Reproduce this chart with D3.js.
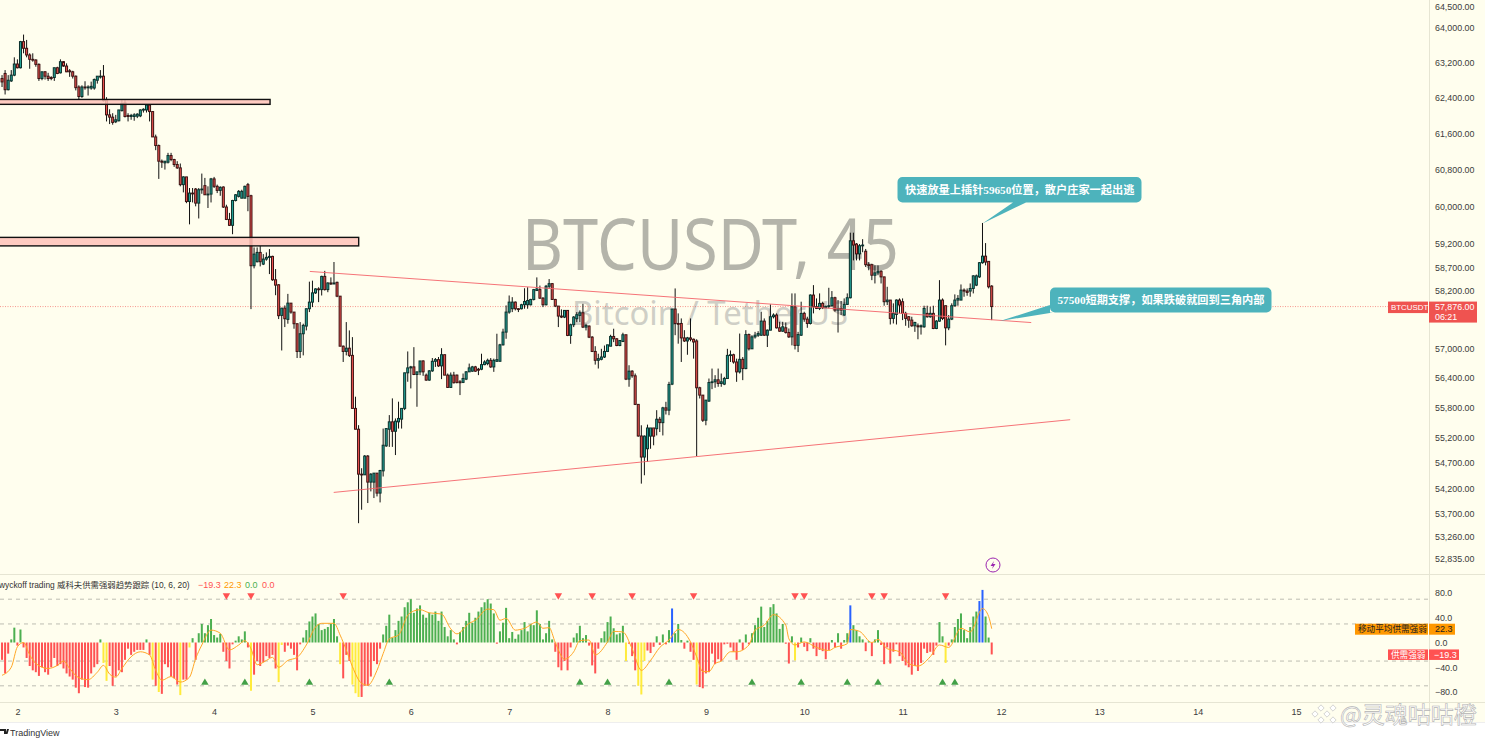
<!DOCTYPE html>
<html>
<head>
<meta charset="utf-8">
<style>
  html, body { margin: 0; padding: 0; background: #fff; overflow: hidden; }
  text { font-family: "Liberation Sans", "Noto Sans CJK SC", sans-serif; }
  .tick text { fill: #3c3c3c; }
</style>
<script src="https://cdn.jsdelivr.net/npm/d3@7"></script>
</head>
<body>
<svg id="canvas" width="1485" height="738"></svg>
<script>
// BTCUSDT 45 min candles
const opens = [
62843,62958,62590,62789,62920,63173,63088,63686,63533,63380,
63280,63265,63165,62843,62996,62896,62866,62866,63088,62973,
63226,63127,63019,62996,62896,62651,62436,62651,62636,62628,
62628,62804,62881,62896,62355,62024,61973,61870,61892,62120,
62296,62010,61988,61988,61995,62002,62134,62134,62245,62098,
61532,61341,60995,60959,60973,61120,61032,60922,60848,60481,
60650,60113,60297,60385,60079,60370,60459,60260,60275,60606,
60444,60355,60429,59994,59726,59599,60136,60225,60186,60186,
60481,60240,58736,58821,59019,58771,58877,58913,58934,58439,
58333,57692,57844,57609,57948,57761,57519,56946,57311,57470,
57831,57969,58163,58246,58232,58510,58232,58371,58350,58385,
58094,57054,56946,57013,56865,55787,55369,54478,54465,54835,
54322,54322,54498,54107,54543,55037,55369,55517,55328,55517,
55571,55787,56508,56609,56629,56474,56528,56751,56461,56360,
56548,56744,56778,56650,56879,56461,56211,56461,56461,56326,
56313,56380,56528,56542,56629,56582,56582,56676,56697,56764,
56629,56744,56744,57082,57345,57761,57831,57969,57831,57831,
57914,57914,57914,58025,58212,58232,58052,57914,58302,58357,
58025,57886,57678,57657,57796,57276,57498,57623,57692,57747,
57449,57470,57241,56946,56764,56785,56832,56946,57054,57255,
57207,57068,57151,57290,56380,56542,56447,55868,55234,54816,
54980,55231,55394,55380,55569,55501,55798,55751,56278,57824,
57524,57524,57225,57162,57225,57197,57162,56204,56055,55549,
55934,56311,56325,56366,56291,56278,56392,56865,56878,56730,
56527,56784,56595,57294,57000,57246,57281,57281,57573,57281,
57385,57664,57699,57434,57364,57434,57336,57246,57873,57071,
57281,57734,57615,57524,58117,57873,57838,57943,57852,57880,
57894,58061,57803,57838,57699,57922,58061,59267,59197,58988,
59162,59044,58758,58758,58535,58584,58619,58500,57978,58012,
57629,57713,58012,57978,57734,57664,57594,57476,57476,57455,
57455,57734,57664,57734,57420,57573,58012,57894,57434,57615,
57894,58012,58012,58221,58201,58201,58256,58326,58500,58800,
58939,58828,58305];
const highs = [
62920,63035,62920,63035,63326,63280,63702,63848,63725,63418,
63418,63280,63188,62996,63011,62973,62896,63088,63111,63280,
63241,63188,63057,63019,62912,62689,62689,62781,62689,62773,
62843,62896,63035,63150,62421,62149,62061,62024,62134,62355,
62355,62061,62046,62061,62061,62149,62171,62267,62259,62098,
61583,61363,61032,60995,61179,61179,61047,60995,60944,60664,
60650,60407,60407,60407,60407,60723,60628,60444,60628,60650,
60481,60444,60444,60044,59867,60150,60275,60363,60370,60459,
60518,60260,59125,59125,59160,58983,59019,59090,58948,58665,
58347,57844,57900,58142,57948,57761,57519,57553,57519,57831,
58399,58420,58260,58281,58524,58627,58385,58489,58815,58399,
58094,57068,57553,57380,57241,56023,55450,54595,54855,54855,
54498,54498,54498,54563,55382,55382,55652,55989,55585,55922,
55787,56508,56946,56650,57034,56528,56751,56764,56494,56562,
56811,56811,56832,57013,56879,56494,56515,56528,56474,56360,
56494,56542,56697,56650,56650,56609,56899,56764,56798,56811,
56798,57311,57103,57415,57900,58108,58073,57983,57844,57934,
58260,58281,58038,58246,58489,58316,58073,58330,58454,58371,
58038,57886,57817,57796,57796,57519,57678,57761,57796,57934,
57519,57484,57262,57054,56899,57000,57068,57082,57290,57415,
57221,57172,57332,57290,56663,56562,56494,55868,55448,55245,
55461,55394,55394,55751,55616,55819,55920,56325,57824,58256,
57734,57629,57385,57246,57629,57211,57197,56224,56055,55954,
56392,56595,56460,56595,56494,56426,57000,56966,56899,56798,
57315,56831,57385,57315,57281,57350,57364,57768,57629,57399,
57922,57734,57734,57559,57559,57545,57420,58152,58152,57350,
57978,57768,57664,58131,58326,58047,58152,57978,57894,58270,
58201,58082,58012,57992,58047,58152,59441,59441,59218,59197,
59302,59093,58814,58779,58744,58744,58640,58500,58291,58012,
57943,58026,58047,58047,57768,57678,57664,57559,57524,57503,
57894,57894,57873,57894,57594,58431,58047,57894,57699,57943,
58131,58117,58340,58256,58256,58361,58535,58549,58814,59650,
59218,58828,58326];
const lows = [
62651,62482,62574,62766,62896,63073,63073,63418,63326,63065,
63226,63111,62789,62804,62820,62789,62804,62789,62942,62958,
63111,62988,62881,62843,62574,62360,62406,62590,62459,62590,
62590,62728,62843,62321,61877,61818,61804,61840,61877,62098,
61965,61877,61914,61892,61951,61973,62076,62076,61877,61532,
61238,60606,60848,60811,60944,60995,60870,60826,60444,60312,
60077,59620,60093,60009,59747,60282,60260,59973,60093,60407,
60297,60238,59973,59712,59584,59408,60115,60201,60186,60186,
59903,57823,58680,58807,58722,58750,58842,58559,58418,58114,
57616,56966,57449,57519,57727,57415,56811,56811,56865,57380,
57761,57865,58142,57969,58108,58212,58177,58330,58350,58073,
57054,56730,56865,56832,55787,55369,53522,53783,54465,53913,
54140,54010,54042,53925,54432,55017,55017,55017,54855,55382,
55382,55753,56326,56191,56461,55820,56461,56447,56346,56346,
56528,56629,56629,56380,56461,56205,56205,56292,56292,56056,
56299,56360,56528,56528,56528,56461,56562,56663,56663,56609,
56528,56730,56744,57068,57207,57727,57761,57796,57761,57817,
57831,57831,57900,58004,58212,58038,57865,57900,58246,58025,
57865,57449,57636,57636,57262,57103,57449,57553,57553,57429,
57380,57221,56933,56676,56596,56764,56811,56933,57054,57138,
57054,57054,57138,56360,56225,56407,55854,55220,54292,54456,
54718,54980,55049,55245,55313,55245,55664,55650,56258,57281,
57106,56730,57141,56878,57155,56798,54836,55987,55515,55448,
55920,56176,56204,56224,56224,56258,56392,56730,56696,56325,
56494,56359,56581,56966,57000,57211,57246,57267,57267,57037,
57385,57629,57420,57350,57350,57315,57225,57071,56987,56933,
57267,57559,57434,57503,57734,57824,57803,57824,57852,57838,
57873,57768,57336,57699,57685,57908,58047,58849,58849,58849,
59023,58709,58640,58431,58361,58535,58361,57894,57908,57503,
57524,57503,57734,57594,57476,57434,57455,57350,57197,57294,
57434,57643,57643,57406,57406,57559,57594,57071,57385,57594,
57873,57894,58012,58082,58103,58082,58152,58305,58479,58779,
58744,58256,57594];
const closes = [
62766,62590,62804,62920,63173,63088,63686,63533,63380,63280,
63265,63165,62843,62996,62896,62843,62843,63088,62958,63226,
63127,62996,62996,62896,62636,62436,62651,62636,62651,62666,
62820,62896,62896,62344,62024,61973,61855,61914,62134,62281,
61988,61988,62010,62024,62039,62134,62149,62245,62098,61532,
61341,60995,60973,60995,61120,61032,60922,60848,60481,60650,
60113,60297,60282,60079,60370,60385,60260,60275,60606,60444,
60355,60422,59994,59726,59599,60136,60260,60334,60334,60444,
60225,58736,58983,59019,58821,58877,58913,58934,58439,58326,
57686,57844,57623,57948,57761,57519,56946,57311,57484,57831,
57969,58163,58246,58232,58510,58232,58371,58350,58371,58094,
57054,56946,57013,56865,55787,55369,54478,54465,54835,54322,
54478,54498,54107,54550,55050,55382,55517,55328,55531,55585,
55787,56508,56609,56629,56474,56528,56751,56528,56360,56548,
56744,56778,56650,56879,56461,56211,56461,56306,56313,56306,
56393,56528,56609,56629,56542,56562,56676,56730,56764,56629,
56764,56778,57082,57345,57761,57969,57969,57831,57817,57914,
57983,58004,58025,58232,58246,58052,57914,58302,58357,58025,
57886,57678,57657,57796,57276,57498,57657,57706,57747,57449,
57484,57241,56946,56764,56798,56832,56946,57082,57255,57207,
57068,57172,57290,56380,56542,56447,55868,55234,54816,55231,
55394,55394,55231,55569,55501,55798,55751,56271,57824,57524,
57510,57225,57162,57225,57197,57141,56204,56055,55549,55954,
56311,56325,56366,56291,56325,56392,56865,56878,56730,56527,
56784,56595,57294,57000,57246,57281,57315,57573,57281,57385,
57664,57699,57434,57364,57455,57336,57246,57873,57071,57294,
57734,57615,57524,58117,57873,57838,57943,57852,57880,57894,
58061,57803,57838,57803,57922,58061,59267,59176,58988,59162,
59176,58758,58744,58535,58584,58619,58500,57978,58012,57629,
57734,58012,57908,57734,57629,57594,57476,57545,57455,57476,
57838,57664,57734,57420,57573,58012,57629,57434,57615,57894,
58012,58047,58221,58201,58173,58256,58521,58521,58800,58939,
58814,58291,57876];

// supply/demand histogram, one value per candle
const histogram = [
-28,-50,-18,5,24,-5,21,-8,-25,-38,
-45,-48,-54,-40,-48,-52,-40,-25,-38,-35,
-42,-50,-55,-60,-73,-82,-60,-72,-73,-50,
-40,-35,5,-33,-62,-38,-70,-55,-45,-48,
-28,-10,-20,-15,-12,-12,-12,5,-20,-60,
-70,-80,-83,-35,-40,-55,-58,-68,-85,-60,
-60,-8,7,-28,15,30,15,28,38,12,
8,14,-15,-30,-42,-3,3,10,5,18,
-8,-78,-52,-30,-38,-32,-22,-25,-20,-42,
-64,-4,-15,-5,-10,-20,-45,-3,8,20,
34,42,47,30,20,22,25,30,38,10,
-35,-58,-20,-30,-68,-82,-88,-88,-70,-70,
-55,-30,-35,-10,13,27,45,8,20,35,
42,57,65,70,48,55,60,45,40,48,
45,50,35,50,25,10,20,5,-3,17,
25,35,48,32,40,50,57,65,70,63,
47,-2,18,32,56,7,17,6,13,20,
33,18,30,28,52,30,5,15,35,5,
-15,-40,-45,-30,-45,-8,8,15,27,7,
12,-5,-37,-50,-10,7,18,33,42,23,
13,15,27,-30,-2,-22,-45,-70,-84,-30,
-13,-17,-7,10,-4,13,-3,20,55,15,
30,4,-10,3,-15,-28,-68,-72,-74,-50,
-48,-18,-35,-27,-30,-3,-2,-8,-15,-28,
5,-12,13,-3,15,28,40,58,25,35,
57,62,47,22,30,-2,-34,10,-29,-8,
8,-7,-14,7,-10,-22,-12,-14,-27,-12,
4,-8,15,-10,4,15,60,28,20,10,
5,-14,2,-22,5,20,-4,-35,-8,-34,
-15,-3,-22,-30,-37,-40,-52,-38,-46,-33,
-10,-17,-15,-20,-5,33,10,-33,-5,5,
25,38,47,20,7,25,42,50,67,85,
42,8,-19.3];
const yellowBars = [33,34,49,51,58,61,81,90,91,110,114,115,116,203,207,208,209,226,258,307];
const blueBars = [218,276,318,319];

// orange moving average, read at its bends
const signalBars = [0,3,5,7,9,11,15,18,20,22,25,28,31,33,35,37,39,42,45,48,50,52,55,58,61,63,65,68,71,74,77,79,81,83,86,88,90,93,96,99,102,104,108,110,
112,114,117,119,122,124,126,129,132,134,136,139,143,146,148,152,154,158,160,162,164,167,170,174,176,178,180,183,186,188,191,193,197,199,202,205,208,211,214,217,220,
224,226,228,230,232,234,237,239,243,245,248,251,255,256,258,261,265,269,271,275,276,279,283,285,288,292,295,298,302,305,308,312,315,319,321,322];
const signalValues = [-53,-40,-7,0,-20,-34,-42,-37,-30,-42,-57,-60,-48,-37,-51,-56,-42,-23,-15,-20,-45,-61,-55,-64,-56,-26,-4,20,15,-12,-4,3,-10,-36,-29,-24,-40,-29,-24,-4,25,31,31,12,
-12,-39,-66,-69,-45,-18,6,12,44,51,53,48,46,22,14,31,36,54,53,36,39,20,23,33,23,24,0,-27,-15,3,4,-20,1,18,17,-10,-45,-29,-8,4,21,
1,-23,-47,-47,-34,-30,-15,-15,-4,20,28,45,28,6,-4,1,-8,-13,-8,-2,21,18,0,5,-10,-15,-34,-38,-23,-4,-8,23,17,55,42,22.3];

const sellMarks = [73,81,111,181,192,205,225,258,261,283,287,307];
const buyMarks = [66,79,100,126,188,197,217,244,260,275,285,306,310];

const priceTicks = [64500,64000,63200,62400,61600,60800,60000,59200,58700,58200,57000,56400,55800,55200,54700,54200,53700,53260,52835];
const indicatorTicks = [80,40,0,-40,-80];
const indicatorLevels = [70,30,-30,-70];
const dayTicks = [2,3,4,5,6,7,8,9,10,11,12,13,14,15];

const trendDays = [[4.973,12.308],[5.216,12.704]];
const trendPrices = [[58615,57543],[54120,55560]];
const zoneEnds = [4.569,5.47];
const zoneTops = [62370,59340];
const zoneBottoms = [62260,59158];

const lastPrice = 57876;
const lastSignal = 22.3;
const lastHist = -19.3;
const callouts = ['快速放量上插针59650位置，散户庄家一起出逃','57500短期支撑，如果跌破就回到三角内部'];

const red = '#ef5350';
const bg = '#fffeee';

const svg = d3.select('#canvas');
const x = d3.scaleLinear().domain([2,15]).range([17.4,1296]);
const y = d3.scaleLog().domain([64000,53700]).range([28,514]);
const yi = d3.scaleLinear().domain([80,-80]).range([593,692]);
const barDay = (i) => 2 + (i - 5) / 32;
const bx = (i) => x(barDay(i));

svg.append('rect').attr('width',1485).attr('height',722).attr('fill',bg);
svg.append('rect').attr('y',722).attr('width',1485).attr('height',16).attr('fill','#fff');
svg.append('line').attr('x1',0).attr('x2',1485).attr('y1',722.5).attr('y2',722.5).attr('stroke','#eeeeee');

const defs = svg.append('defs');
defs.append('clipPath').attr('id','pane').append('rect').attr('width',1429).attr('height',722);

const pane = svg.append('g').attr('clip-path','url(#pane)');

// big symbol watermark behind the candles
pane.append('text').attr('x',522).attr('y',270)
  .attr('textLength',377).attr('lengthAdjust','spacingAndGlyphs')
  .style('font-family','"Noto Sans"').style('font-size','72px').attr('fill','#b4b4aa')
  .text('BTCUSDT, 45');
pane.append('text').attr('x',572).attr('y',325)
  .attr('textLength',276).attr('lengthAdjust','spacingAndGlyphs')
  .style('font-family','"Noto Sans"').style('font-size','32px').attr('fill','#cfcfc6')
  .text('Bitcoin / TetherUS');

// last price dotted line
pane.append('line').attr('x1',0).attr('x2',1388).attr('y1',y(lastPrice)).attr('y2',y(lastPrice))
  .attr('stroke',red).attr('stroke-width',1).attr('stroke-opacity',0.6).attr('stroke-dasharray','1,1.5');

const idx = d3.range(opens.length);

// wicks
pane.append('g').selectAll('line').data(idx).enter().append('line')
  .attr('x1',bx).attr('x2',bx)
  .attr('y1',(i) => y(highs[i])).attr('y2',(i) => y(lows[i]))
  .attr('stroke','#111').attr('stroke-width',1);

// bodies
pane.append('g').selectAll('rect').data(idx).enter().append('rect')
  .attr('x',(i) => bx(i) - 1).attr('width',2)
  .attr('y',(i) => y(Math.max(opens[i],closes[i])))
  .attr('height',(i) => Math.max(0.8,Math.abs(y(opens[i]) - y(closes[i]))))
  .attr('fill',(i) => closes[i] >= opens[i] ? '#26a69a' : red)
  .attr('stroke',(i) => closes[i] >= opens[i] ? '#0a2f2a' : '#3a1212')
  .attr('stroke-width',1);

// supply zones
pane.append('g').selectAll('rect').data(zoneEnds).enter().append('rect')
  .attr('x',-4)
  .attr('width',(d) => x(d) + 4)
  .attr('y',(d,k) => y(zoneTops[k]))
  .attr('height',(d,k) => y(zoneBottoms[k]) - y(zoneTops[k]))
  .attr('fill','#ffc2b8').attr('fill-opacity',0.85)
  .attr('stroke','#111').attr('stroke-width',1.4);

// triangle lines
pane.append('g').selectAll('line').data(trendDays).enter().append('line')
  .attr('x1',(d) => x(d[0])).attr('x2',(d) => x(d[1]))
  .attr('y1',(d,k) => y(trendPrices[k][0])).attr('y2',(d,k) => y(trendPrices[k][1]))
  .attr('stroke','#f4646a').attr('stroke-width',1).attr('stroke-opacity',0.9);

// callouts
const callout = (x0,y0,x1,y1,tail,textX,label) => {
  const r = 5;
  const p = d3.path();
  p.moveTo(x0 + r,y0);
  p.lineTo(x1 - r,y0);
  p.arcTo(x1,y0,x1,y0 + r,r);
  p.lineTo(x1,y1 - r);
  p.arcTo(x1,y1,x1 - r,y1,r);
  tail(p);
  p.lineTo(x0 + r,y1);
  p.arcTo(x0,y1,x0,y1 - r,r);
  p.lineTo(x0,y0 + r);
  p.arcTo(x0,y0,x0 + r,y0,r);
  p.closePath();
  svg.append('path').attr('d',p.toString()).attr('fill','#4db3bc');
  svg.append('text').attr('x',textX).attr('y',(y0 + y1) / 2 + 4)
    .attr('fill','#fff').style('font-family','"Liberation Serif","Noto Sans CJK SC"')
    .style('font-size','11.2px').style('font-weight',700).text(label);
};
callout(897.5,177,1141.5,202.5,(p) => {
  p.lineTo(1026,202.5); p.lineTo(bx(319),y(59650) + 0.5); p.lineTo(1013,202.5);
},905,callouts[0]);
callout(1050,287.5,1271.5,312.5,(p) => {
  p.lineTo(1053,312.5); p.lineTo(1000,321);
  p.lineTo(1050,305); p.lineTo(1050,312.5);
},1057.5,callouts[1]);

// indicator pane
svg.append('line').attr('x1',0).attr('x2',1485).attr('y1',574.5).attr('y2',574.5).attr('stroke','#e6e5d3');
svg.append('line').attr('x1',0).attr('x2',1485).attr('y1',702.5).attr('y2',702.5).attr('stroke','#e6e5d3');
svg.append('line').attr('x1',1429.5).attr('x2',1429.5).attr('y1',0).attr('y2',722).attr('stroke','#e6e5d3');

pane.append('g').selectAll('line').data(indicatorLevels).enter().append('line')
  .attr('x1',0).attr('x2',1429).attr('y1',(d) => yi(d)).attr('y2',(d) => yi(d))
  .attr('stroke','#bdbdb2').attr('stroke-width',1).attr('stroke-dasharray','4,4');

const histColor = (d,i) => {
  if (yellowBars.includes(i)) return '#ffeb3b';
  if (blueBars.includes(i)) return '#2962ff';
  return d >= 0 ? '#4caf50' : '#ff5252';
};
pane.append('g').selectAll('rect').data(histogram).enter().append('rect')
  .attr('x',(d,i) => bx(i) - 1).attr('width',2)
  .attr('y',(d) => d >= 0 ? yi(d) : yi(0))
  .attr('height',(d) => Math.abs(yi(d) - yi(0)))
  .attr('fill',histColor);

pane.append('path').datum(signalBars)
  .attr('d',d3.line().x((d) => bx(d)).y((d,k) => yi(signalValues[k])).curve(d3.curveMonotoneX))
  .attr('fill','none').attr('stroke','#ffa726').attr('stroke-width',1);

const marks = (list,level,color,rot) => {
  pane.append('g').selectAll('path').data(list).enter().append('path')
    .attr('d',d3.symbol().type(d3.symbolTriangle).size(24))
    .attr('transform',(d) => 'translate(' + bx(d) + ',' + yi(level) + ') rotate(' + rot + ')')
    .attr('fill',color);
};
marks(sellMarks,76,'#ff5252',180);
marks(buyMarks,-65,'#43a047',0);

// legend
const legendY = 588;
pane.append('text').attr('x',-1).attr('y',legendY).style('font-size','8.4px').attr('fill','#333')
  .text('wyckoff trading 威科夫供需强弱趋势跟踪 (10, 6, 20)');
const legendColors = ['#ff5252','#ff9800','#4caf50','#ff5252'];
const legendXs = [198,224,245,262];
const legendTexts = ['−19.3','22.3','0.0','0.0'];
pane.append('g').selectAll('text').data(legendTexts).enter().append('text')
  .attr('x',(d,i) => legendXs[i]).attr('y',legendY).style('font-size','9px')
  .attr('fill',(d,i) => legendColors[i]).text((d) => d);

// axes
const priceAxis = d3.axisRight(y).tickValues(priceTicks).tickSize(0).tickFormat(d3.format(',.2f'));
svg.append('g').attr('transform','translate(1429,0)').call(priceAxis)
  .call((g) => g.select('.domain').remove())
  .selectAll('text').attr('x',6).style('font-size','8.9px');
const indicatorAxis = d3.axisRight(yi).tickValues(indicatorTicks).tickSize(0).tickFormat(d3.format('.1f'));
svg.append('g').attr('transform','translate(1429,0)').call(indicatorAxis)
  .call((g) => g.select('.domain').remove())
  .selectAll('text').attr('x',6).style('font-size','8.9px');
const dayAxis = d3.axisBottom(x).tickValues(dayTicks).tickSize(0).tickFormat(d3.format('d'));
svg.append('g').attr('transform','translate(0,706)').call(dayAxis)
  .call((g) => g.select('.domain').remove())
  .selectAll('text').attr('y',3).style('font-size','9px');

// price tags on the axis
const tag = (x0,w,y0,h,fill) => svg.append('rect').attr('x',x0).attr('y',y0).attr('width',w).attr('height',h).attr('fill',fill);
const label = (xx,yy,color,size,s) => svg.append('text').attr('x',xx).attr('y',yy).attr('fill',color).style('font-size',size).text(s);
tag(1388,40,y(lastPrice) - 5,11.5,red);
label(1391,y(lastPrice) + 3.5,'#fff','7.9px','BTCUSDT');
tag(1429,48,y(lastPrice) - 5,21,red);
label(1435,y(lastPrice) + 3.5,'#fff','8.9px',d3.format(',.2f')(lastPrice));
label(1435,y(lastPrice) + 13,'#fff','8.9px','06:21');

tag(1355,73,yi(lastSignal) - 5,11,'#ff9800');
label(1358,yi(lastSignal) + 3.5,'#222','8.6px','移动平均供需强弱');
tag(1429,26,yi(lastSignal) - 5,11,'#ff9800');
label(1435,yi(lastSignal) + 3.5,'#222','9px',d3.format('.1f')(lastSignal));

tag(1388,40,yi(lastHist) - 5,10.5,'#ff5252');
label(1391,yi(lastHist) + 3.5,'#fff','8.6px','供需强弱');
tag(1429,30,yi(lastHist) - 5,10.5,'#ff5252');
label(1434,yi(lastHist) + 3.5,'#fff','9px',d3.format('.1f')(lastHist));

// alert icon
const alertG = svg.append('g').attr('transform','translate(993,565)');
alertG.append('circle').attr('r',7).attr('fill',bg).attr('stroke','#9c27b0').attr('stroke-width',1);
alertG.append('path').attr('d','M1,-4 L-2.5,1 L0,1 L-1,4 L2.5,-1 L0,-1 Z').attr('fill','#9c27b0');

// footer
svg.append('path').attr('d','M0,729 h6 v5 h-2 v-3 h-4 Z M7,729 h2 l-1.5,5 h-2 Z').attr('fill','#222');
label(10,736,'#333','9px','TradingView');

// page watermark
const wm = svg.append('g');
[[1315,714],[1321,708],[1321,720],[1327,714],[1333,708],[1333,720]].forEach((d) => {
  wm.append('path').attr('d',d3.symbol().type(d3.symbolSquare).size(20))
    .attr('transform','translate(' + d[0] + ',' + d[1] + ') rotate(45)')
    .attr('fill','#fff').attr('stroke','#bbbbbb').attr('stroke-width',0.6);
});
wm.append('text').attr('x',1340).attr('y',723)
  .style('font-family','"Noto Sans CJK SC"').style('font-size','23px')
  .attr('fill','#fff').attr('stroke','#b3b3b3').attr('stroke-width',0.6)
  .text('@灵魂咕咕橙');
</script>
</body>
</html>
